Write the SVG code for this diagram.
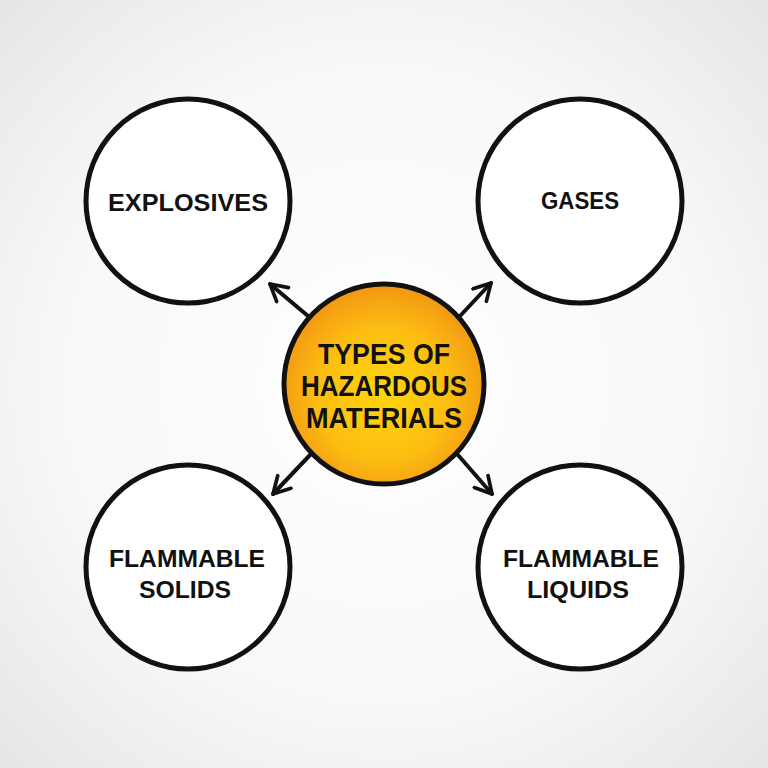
<svg xmlns="http://www.w3.org/2000/svg" width="768" height="768" viewBox="0 0 768 768">
<defs>
<radialGradient id="bg" cx="50%" cy="50%" r="70%">
<stop offset="0" stop-color="#ffffff"/>
<stop offset="0.6" stop-color="#f8f8f8"/>
<stop offset="1" stop-color="#e6e6e6"/>
</radialGradient>
<radialGradient id="orange" cx="50%" cy="55%" r="55%">
<stop offset="0" stop-color="#ffd60c"/>
<stop offset="0.6" stop-color="#fcbd12"/>
<stop offset="1" stop-color="#f29612"/>
</radialGradient>
<marker id="ah" viewBox="0 0 12 12" refX="10" refY="6" markerWidth="5.5" markerHeight="5.5" orient="auto" markerUnits="strokeWidth">
<path d="M1,1 L10,6 L1,11" fill="none" stroke="#111" stroke-width="2" stroke-linecap="round" stroke-linejoin="round"/>
</marker>
<style>
.ring{fill:#ffffff;stroke:#111;stroke-width:5}
.lbl{font-family:"Liberation Sans",Arial,sans-serif;font-weight:bold;font-size:24px;fill:#111;text-anchor:middle}
.ctr{font-family:"Liberation Sans",Arial,sans-serif;font-weight:bold;font-size:30px;fill:#111;text-anchor:middle}
.conn{stroke:#111;stroke-width:4;fill:none;stroke-linecap:round;marker-end:url(#ah)}
</style>
</defs>
<rect width="768" height="768" fill="url(#bg)"/>
<g id="connectors">
<line class="conn" x1="308" y1="316" x2="270" y2="284"/>
<line class="conn" x1="460" y1="316" x2="491" y2="283"/>
<line class="conn" x1="310" y1="455" x2="273" y2="494"/>
<line class="conn" x1="458" y1="455" x2="492" y2="494"/>
</g>
<g id="center">
<circle cx="384" cy="384" r="100" fill="url(#orange)" stroke="#111" stroke-width="5"/>
<text class="ctr" x="384" y="364" textLength="132" lengthAdjust="spacingAndGlyphs">TYPES OF</text>
<text class="ctr" x="384" y="396" textLength="166" lengthAdjust="spacingAndGlyphs">HAZARDOUS</text>
<text class="ctr" x="384" y="428" textLength="156" lengthAdjust="spacingAndGlyphs">MATERIALS</text>
</g>
<g id="explosives">
<circle class="ring" cx="188" cy="201" r="102"/>
<text class="lbl" x="188" y="211" textLength="160" lengthAdjust="spacingAndGlyphs">EXPLOSIVES</text>
</g>
<g id="gases">
<circle class="ring" cx="580" cy="201" r="102"/>
<text class="lbl" x="580" y="209" textLength="78" lengthAdjust="spacingAndGlyphs">GASES</text>
</g>
<g id="flammable-solids">
<circle class="ring" cx="188" cy="567" r="102"/>
<text class="lbl" x="187" y="567" textLength="156" lengthAdjust="spacingAndGlyphs">FLAMMABLE</text>
<text class="lbl" x="185" y="598" textLength="92" lengthAdjust="spacingAndGlyphs">SOLIDS</text>
</g>
<g id="flammable-liquids">
<circle class="ring" cx="580" cy="567" r="102"/>
<text class="lbl" x="581" y="567" textLength="156" lengthAdjust="spacingAndGlyphs">FLAMMABLE</text>
<text class="lbl" x="578" y="598" textLength="102" lengthAdjust="spacingAndGlyphs">LIQUIDS</text>
</g>
</svg>
